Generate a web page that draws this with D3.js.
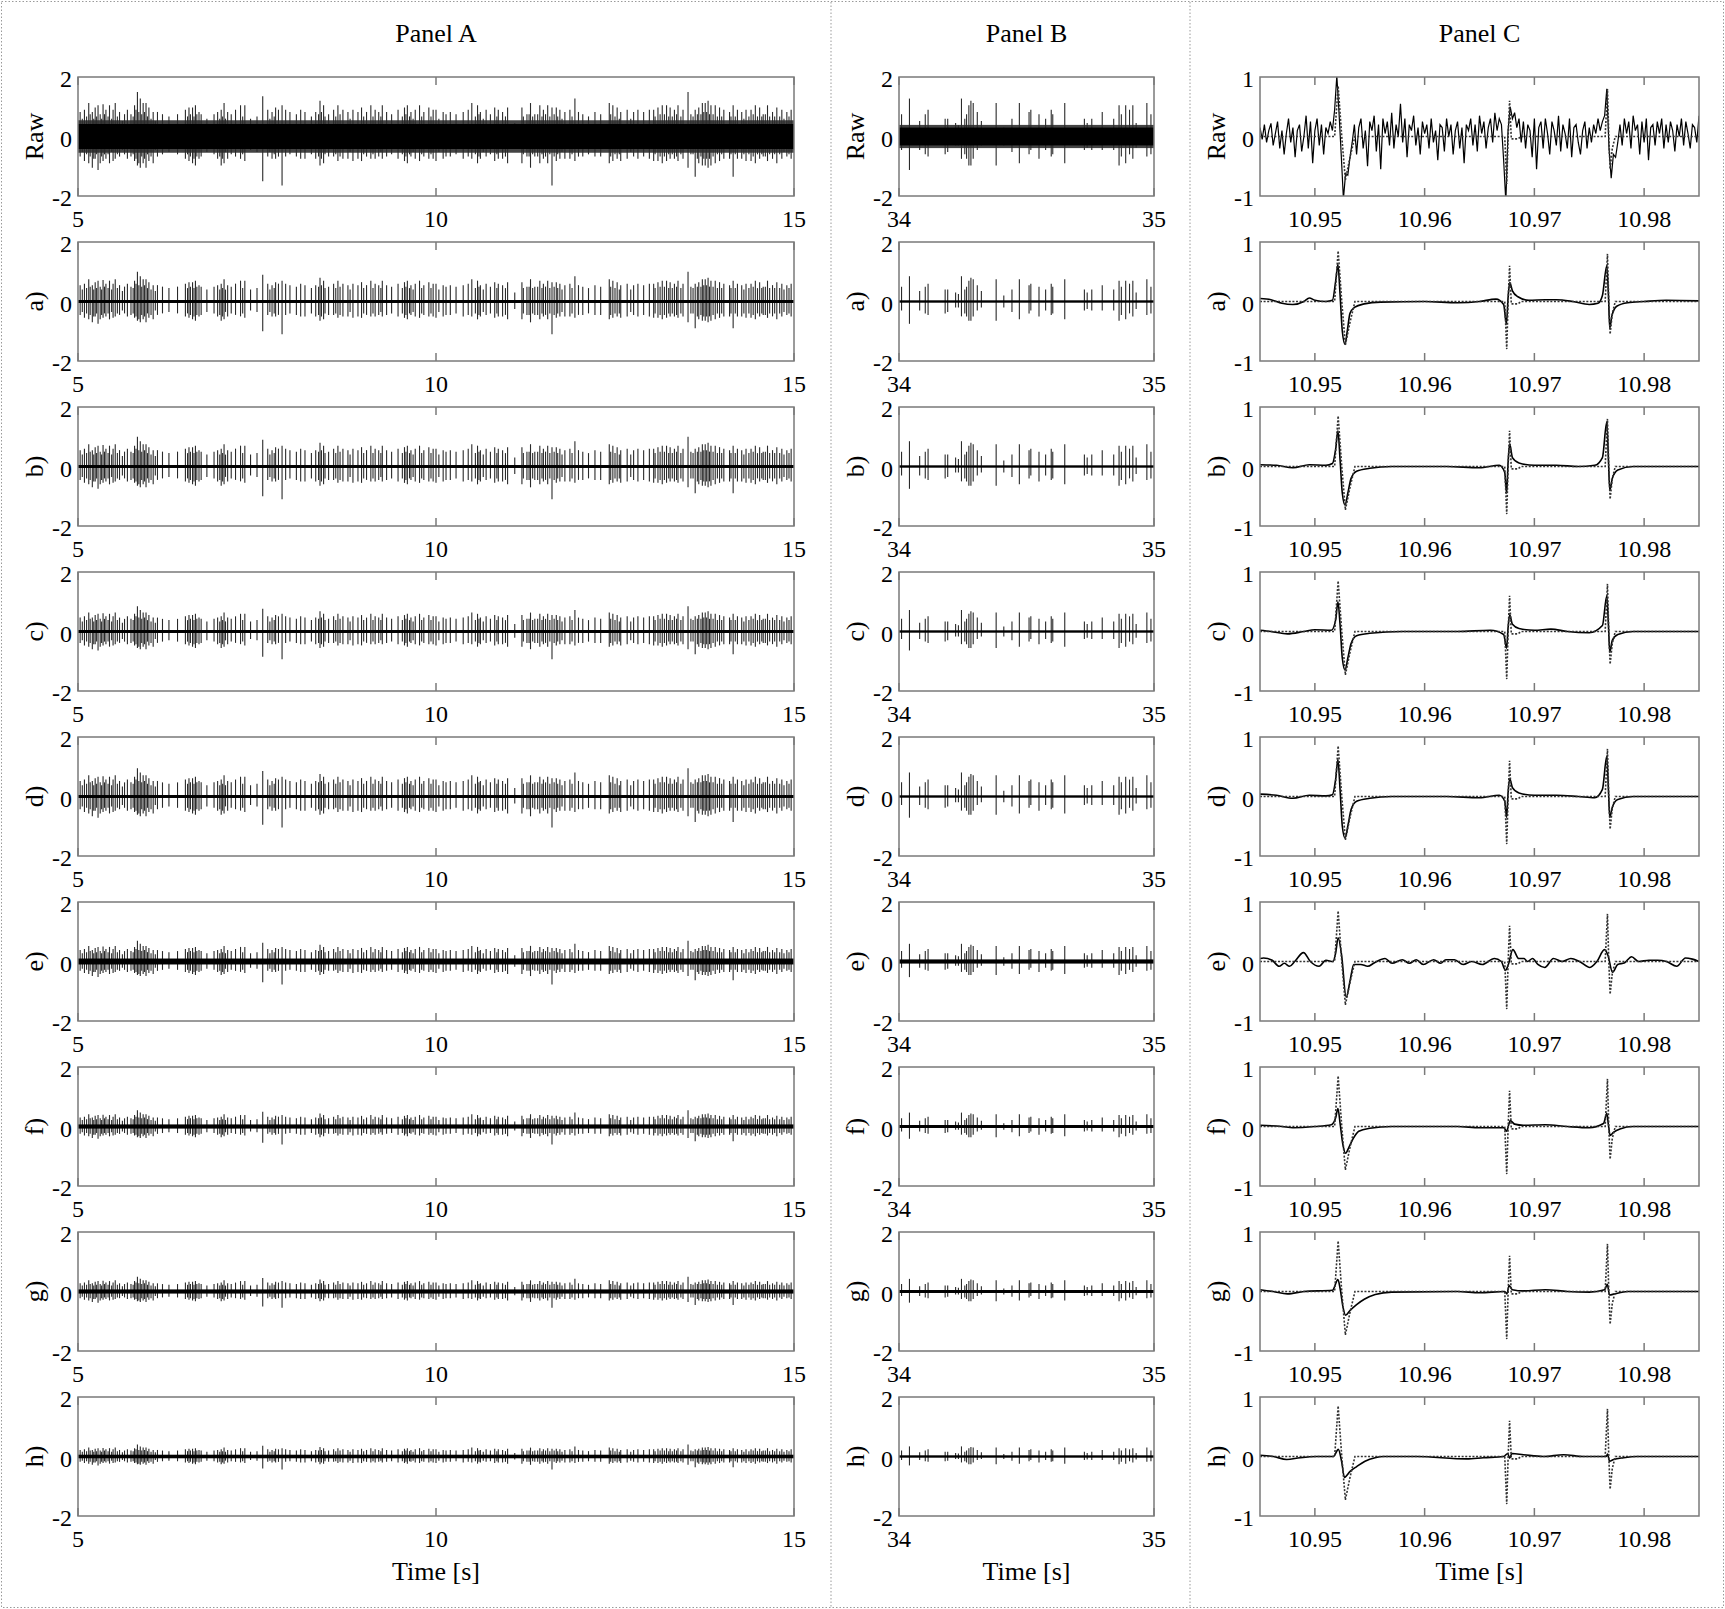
<!DOCTYPE html>
<html>
<head>
<meta charset="utf-8">
<script src="https://cdn.jsdelivr.net/npm/d3@7"></script>
<style>
  body { margin: 0; background: #fff; }
  svg { display: block; font-family: "Liberation Serif", "Times New Roman", serif; }
</style>
</head>
<body>
<svg></svg>
<script>
let rowNames = ['Raw', 'a)', 'b)', 'c)', 'd)', 'e)', 'f)', 'g)', 'h)'];

// Panel A / B spikes: [time s, upper peak, lower peak] in row a) units
let spikesA = [
  [5.03,.55,-.45],[5.09,.6,-.55],[5.15,.75,-.6],[5.2,.55,-.7],[5.24,.65,-.5],[5.28,.7,-.75],[5.31,.5,-.6],[5.35,.72,-.55],
  [5.39,.6,-.5],[5.44,.7,-.6],[5.49,.6,-.55],[5.52,.75,-.5],[5.58,.55,-.45],[5.65,.5,-.4],[5.69,.6,-.5],[5.74,.5,-.45],
  [5.79,.7,-.55],[5.83,1.0,-.65],[5.87,.85,-.7],[5.91,.75,-.6],[5.95,.75,-.7],[5.99,.65,-.55],[6.05,.55,-.6],[6.11,.55,-.45],
  [6.18,.5,-.4],[6.27,.45,-.35],[6.39,.5,-.4],[6.5,.6,-.5],[6.55,.65,-.55],[6.6,.65,-.6],[6.64,.7,-.65],[6.69,.55,-.5],
  [6.72,.5,-.45],[6.8,.4,-.35],[6.9,.5,-.4],[6.95,.55,-.5],[7.0,.6,-.65],[7.04,.75,-.6],[7.09,.55,-.5],[7.14,.5,-.4],
  [7.2,.6,-.45],[7.27,.7,-.5],[7.33,.7,-.55],[7.41,.4,-.3],[7.5,.45,-.35],[7.58,.9,-1.0],[7.65,.6,-.45],[7.71,.55,-.5],
  [7.76,.65,-.5],[7.8,.6,-.45],[7.85,.7,-1.1],[7.9,.6,-.45],[7.96,.55,-.4],[8.05,.5,-.45],[8.11,.6,-.5],[8.17,.55,-.5],
  [8.26,.45,-.4],[8.32,.55,-.5],[8.38,.8,-.65],[8.43,.7,-.6],[8.5,.5,-.45],[8.57,.6,-.45],[8.63,.7,-.55],[8.7,.6,-.5],
  [8.77,.55,-.5],[8.84,.6,-.55],[8.91,.55,-.5],[8.96,.65,-.55],[9.03,.55,-.45],[9.09,.7,-.5],[9.15,.6,-.5],[9.2,.55,-.45],
  [9.25,.7,-.5],[9.31,.55,-.45],[9.38,.5,-.4],[9.47,.6,-.5],[9.56,.65,-.55],[9.6,.7,-.6],[9.65,.55,-.45],[9.71,.6,-.5],
  [9.77,.7,-.55],[9.83,.55,-.45],[9.9,.65,-.5],[9.96,.6,-.5],
  [10.0,.6,-.55],[10.1,.55,-.5],[10.14,.5,-.45],[10.2,.55,-.45],[10.28,.5,-.4],[10.38,.55,-.5],[10.45,.6,-.45],[10.5,.75,-.5],
  [10.58,.7,-.6],[10.62,.55,-.5],[10.7,.6,-.45],[10.76,.5,-.4],[10.82,.65,-.55],[10.87,.6,-.5],[10.93,.55,-.5],[11.0,.65,-.6],
  [11.1,.3,-.25],[11.2,.65,-.6],[11.27,.5,-.45],[11.32,.75,-.7],[11.38,.5,-.45],[11.45,.7,-.6],[11.5,.6,-.5],[11.56,.7,-.6],
  [11.62,.65,-1.1],[11.68,.65,-.55],[11.73,.6,-.5],[11.8,.55,-.5],[11.87,.6,-.5],[11.94,.85,-.55],[11.99,.55,-.45],[12.05,.5,-.45],
  [12.13,.45,-.4],[12.22,.55,-.45],[12.3,.5,-.45],[12.42,.75,-.6],[12.47,.7,-.55],[12.53,.65,-.5],[12.58,.55,-.55],[12.67,.6,-.5],
  [12.76,.55,-.45],[12.82,.6,-.5],[12.9,.55,-.45],[12.98,.6,-.5],[13.04,.6,-.55],[13.1,.65,-.55],[13.16,.7,-.6],[13.22,.7,-.55],
  [13.27,.65,-.5],[13.33,.6,-.5],[13.38,.7,-.55],[13.45,.6,-.5],[13.52,1.0,-.7],[13.56,.5,-.4],[13.62,.6,-.9],[13.67,.65,-.6],
  [13.72,.75,-.65],[13.76,.75,-.65],[13.8,.8,-.7],[13.84,.7,-.65],[13.9,.7,-.6],[13.96,.65,-.55],[14.02,.6,-.5],[14.1,.55,-.5],
  [14.15,.7,-.9],[14.21,.6,-.5],[14.27,.55,-.5],[14.33,.6,-.55],[14.4,.6,-.55],[14.46,.7,-.6],[14.52,.65,-.5],[14.57,.5,-.45],
  [14.63,.7,-.55],[14.7,.55,-.5],[14.76,.65,-.6],[14.83,.6,-.5],[14.9,.55,-.45],[14.96,.6,-.5],
  // smaller spikes inside the bursts
  [5.06,.4,-.35],[5.12,.45,-.4],[5.17,.5,-.45],[5.22,.4,-.5],[5.26,.45,-.4],[5.33,.4,-.45],[5.37,.5,-.4],[5.42,.45,-.4],
  [5.47,.4,-.35],[5.55,.45,-.4],[5.62,.35,-.3],[5.77,.45,-.4],[5.81,.6,-.5],[5.85,.55,-.6],[5.89,.5,-.45],[5.93,.55,-.5],
  [5.97,.45,-.4],[6.02,.4,-.45],[6.08,.35,-.3],[6.53,.45,-.4],[6.57,.5,-.45],[6.62,.45,-.5],[6.66,.5,-.45],[6.98,.4,-.45],
  [7.02,.45,-.5],[7.06,.4,-.35],[7.3,.45,-.4],[7.68,.4,-.35],[7.74,.45,-.4],[8.36,.5,-.45],[8.4,.55,-.5],[8.45,.45,-.4],
  [8.6,.45,-.4],[8.66,.5,-.45],[8.8,.4,-.35],[8.99,.45,-.4],[9.12,.45,-.4],[9.23,.45,-.35],[9.53,.45,-.4],[9.58,.5,-.45],
  [9.63,.45,-.4],[9.68,.4,-.35],[9.8,.45,-.4],[9.93,.45,-.4],[10.04,.4,-.35],[10.55,.45,-.4],[10.6,.5,-.45],[10.66,.4,-.35],
  [10.85,.45,-.4],[10.97,.45,-.45],[11.22,.45,-.4],[11.3,.5,-.45],[11.35,.45,-.4],[11.42,.5,-.45],[11.48,.45,-.4],[11.53,.5,-.45],
  [11.59,.45,-.4],[11.65,.5,-.45],[11.7,.45,-.4],[11.76,.4,-.35],[11.9,.45,-.4],[12.44,.5,-.45],[12.5,.45,-.4],[12.56,.4,-.4],
  [12.72,.4,-.35],[13.06,.45,-.4],[13.13,.5,-.45],[13.19,.5,-.45],[13.25,.45,-.4],[13.3,.45,-.4],[13.36,.5,-.45],[13.42,.45,-.4],
  [13.59,.45,-.4],[13.65,.5,-.5],[13.7,.5,-.45],[13.74,.55,-.5],[13.78,.55,-.5],[13.82,.5,-.5],[13.87,.5,-.45],[13.93,.45,-.4],
  [13.99,.45,-.4],[14.12,.45,-.4],[14.18,.45,-.4],[14.3,.4,-.4],[14.37,.45,-.4],[14.43,.5,-.45],[14.49,.45,-.4],[14.55,.45,-.4],
  [14.6,.5,-.45],[14.66,.45,-.4],[14.73,.45,-.4],[14.8,.45,-.4],[14.86,.4,-.35],[14.93,.45,-.4]
];

let spikesB = [
  [34.010,.5,-.3],[34.041,.85,-.75],[34.081,.35,-.3],[34.103,.5,-.4],[34.114,.6,-.45],[34.181,.4,-.4],[34.191,.4,-.35],
  [34.222,.3,-.2],[34.233,.25,-.2],[34.245,.85,-.5],[34.258,.4,-.4],[34.265,.5,-.5],[34.274,.7,-.65],[34.282,.8,-.65],
  [34.291,.75,-.5],[34.307,.55,-.3],[34.323,.35,-.2],[34.381,.75,-.65],[34.411,.2,-.2],[34.443,.4,-.35],[34.472,.75,-.6],
  [34.510,.55,-.4],[34.517,.6,-.3],[34.549,.5,-.5],[34.575,.4,-.3],[34.597,.6,-.45],[34.603,.5,-.4],[34.650,.75,-.6],
  [34.727,.4,-.3],[34.738,.3,-.25],[34.756,.4,-.3],[34.797,.55,-.3],[34.842,.4,-.3],[34.863,.7,-.65],[34.872,.5,-.45],
  [34.889,.7,-.6],[34.904,.6,-.4],[34.917,.7,-.5],[34.930,.3,-.25],[34.972,.75,-.45],[34.988,.5,-.4]
];

// relative spike size and baseline half-width per row (Raw, a..h)
let gainAB = [1.5, 1, 1, .85, .95, .7, .55, .5, .4];
let bandA = [.42, .05, .05, .05, .05, .1, .07, .07, .06];
let bandB = [.3, .04, .04, .04, .04, .07, .05, .05, .04];

// Panel C, time in ms
let rawCStart = 10945, rawCStep = 0.2;
let rawC = [
  .15,-.05,.2,-.1,.1,.22,-.15,.05,.25,-.2,
  .1,-.3,.05,.3,-.1,.15,-.35,.1,.2,-.25,
  0,.35,-.2,.25,-.45,.1,.3,-.15,.2,-.3,
  .15,.05,.25,.1,.45,1.02,.4,-.3,-1.05,-.62,
  -.65,-.35,-.1,.2,-.3,.15,.3,-.2,.1,-.5,
  .25,.1,.35,-.25,.2,-.55,.3,.05,.25,-.15,
  .4,-.2,.2,0,.55,-.1,.3,-.35,.2,.1,
  .35,-.15,.15,-.3,.25,.05,.2,-.2,.3,-.1,
  .1,-.4,.2,.15,-.25,.3,0,.2,-.3,.1,
  .25,-.2,.15,-.45,.2,.1,.3,-.15,.2,-.25,
  .35,.05,.25,-.2,.15,.3,-.1,.4,.1,.3,
  .2,-.4,-1.1,.1,.5,.3,.4,.15,.3,-.1,
  .25,-.2,.2,.1,-.35,.3,-.55,.15,.25,-.2,
  .3,.05,-.3,.25,.1,-.15,.35,-.25,.2,.05,
  -.2,.3,-.35,.15,.2,-.1,-.3,.1,.25,-.2,
  .15,-.1,.2,.05,.3,.1,.25,.35,.8,-.2,
  -.7,-.3,-.35,-.1,.2,-.15,.3,.05,.25,-.2,
  .35,.1,.2,-.3,.25,-.1,.3,-.4,.15,.2,
  -.15,.25,.05,.3,-.2,.2,-.1,.25,.1,-.25,
  .2,0,.3,-.15,.25,.05,-.2,.2,.15,-.1,
  .35
];

let templateC = [
  [10945,0],[10951.8,0],[10952.12,.85],[10952.45,0],[10952.78,-.73],[10953.2,-.35],[10953.65,0],
  [10967.3,0],[10967.48,-.8],[10967.61,0],[10967.74,.6],[10967.9,-.04],[10968.5,-.04],[10968.8,0],
  [10976.45,0],[10976.66,.8],[10976.78,0],[10976.9,-.55],[10977.1,-.2],[10977.37,0],[10985,0]
];

let cA = [
  [10945,.05],[10946,.03],[10947,-.03],[10948,-.05],[10949,0],[10949.5,.06],[10950,.02],[10951,0],[10951.6,.02],
  [10951.9,.35],[10952.1,.62],[10952.3,.1],[10952.5,-.5],[10952.75,-.72],[10952.95,-.5],[10953.2,-.2],[10953.6,-.1],
  [10954.5,-.04],[10956,-.01],[10960,0],[10963,-.02],[10965,0],[10966.5,.04],[10967.2,-.05],[10967.45,-.38],[10967.6,.05],
  [10967.75,.32],[10968,.18],[10968.5,.08],[10969.5,.02],[10971,.03],[10972,.03],[10973.5,0],[10975,-.05],[10975.8,-.03],
  [10976.2,.1],[10976.6,.6],[10976.75,.1],[10976.87,-.45],[10977.05,-.25],[10977.5,-.08],[10978.5,-.02],[10980,0],
  [10982,.02],[10985,.01]
];
let cB = [
  [10945,.03],[10946.5,.02],[10948,-.02],[10949.5,.03],[10951,.02],[10951.6,.05],[10951.9,.3],[10952.1,.6],[10952.3,.1],
  [10952.5,-.45],[10952.75,-.65],[10953,-.45],[10953.3,-.2],[10953.8,-.08],[10955,-.03],[10957,0],[10962,0],[10965,-.02],
  [10966.8,.02],[10967.3,-.1],[10967.47,-.45],[10967.6,.05],[10967.75,.38],[10968,.15],[10968.6,.06],[10970,.02],
  [10972,.02],[10974,0],[10975.5,.02],[10976.2,.15],[10976.6,.75],[10976.75,.1],[10976.87,-.4],[10977.1,-.2],
  [10977.6,-.06],[10979,0],[10985,0]
];
let cC = [
  [10945,.02],[10946,0],[10947.5,-.04],[10949,0],[10950,.03],[10951.5,.02],[10951.9,.2],[10952.1,.5],[10952.3,.1],
  [10952.5,-.45],[10952.75,-.65],[10953,-.45],[10953.3,-.2],[10953.8,-.07],[10955,-.03],[10958,0],[10963,0],[10966,.02],
  [10967.2,-.05],[10967.47,-.28],[10967.6,.05],[10967.75,.28],[10968,.12],[10968.6,.05],[10970,.02],[10971.5,.04],
  [10973,0],[10975,-.02],[10976.2,.1],[10976.6,.6],[10976.75,.1],[10976.87,-.35],[10977.1,-.15],[10977.6,-.05],
  [10979,0],[10985,0]
];
let cD = [
  [10945,.04],[10946.5,.02],[10948,-.03],[10949.5,.02],[10951,.01],[10951.6,.03],[10951.9,.3],[10952.1,.62],[10952.3,.1],
  [10952.5,-.5],[10952.75,-.7],[10953,-.5],[10953.3,-.22],[10953.8,-.08],[10955,-.03],[10957,0],[10962,0],[10965,-.02],
  [10966.8,.02],[10967.3,-.08],[10967.47,-.35],[10967.6,.05],[10967.75,.3],[10968,.15],[10968.6,.06],[10970,.02],
  [10972,.02],[10974,0],[10975.5,-.02],[10976.2,.12],[10976.6,.68],[10976.75,.1],[10976.87,-.35],[10977.1,-.18],
  [10977.6,-.05],[10979,0],[10985,0]
];
let cE = [
  [10945,.05],[10945.32,.06],[10946.11,.02],[10946.74,-.08],[10947.22,-.03],[10947.69,-.08],[10948.16,0],[10948.96,.15],
  [10949.59,0],[10950.38,-.08],[10951.01,.02],[10951.65,0],[10951.9,.15],[10952.12,.4],[10952.44,.1],[10952.85,-.6],
  [10953.23,-.3],[10953.54,-.05],[10954.18,-.05],[10954.81,-.08],[10955.44,-.02],[10956.39,.05],[10957.03,-.03],
  [10957.97,.03],[10958.61,-.03],[10959.24,.03],[10959.87,-.05],[10960.82,.03],[10961.46,-.03],[10961.93,.03],
  [10962.72,.03],[10963.51,-.05],[10964.3,0],[10965.25,-.05],[10966.36,.05],[10966.99,0],[10967.37,-.15],[10967.63,-.05],
  [10968.04,.2],[10968.58,.05],[10969.05,.05],[10969.37,0],[10969.84,.05],[10970.32,-.05],[10970.95,-.1],[10971.74,.05],
  [10972.53,0],[10973.32,.05],[10974.11,0],[10975.06,-.1],[10975.7,0],[10976.39,.2],[10976.71,.1],[10977.12,-.18],
  [10977.59,-.05],[10978.23,-.02],[10978.86,.08],[10979.49,0],[10980.44,.02],[10981.23,.02],[10982.03,0],[10982.97,-.08],
  [10983.77,.06],[10984.4,.04],[10985,0]
];
let cF = [
  [10945,.02],[10947,0],[10948,-.02],[10950,0],[10951.5,.03],[10951.9,.15],[10952.1,.3],[10952.3,.05],[10952.55,-.3],
  [10952.8,-.45],[10953.1,-.35],[10953.5,-.2],[10954,-.08],[10955,-.03],[10957,0],[10963,0],[10965,-.02],[10967.2,-.02],
  [10967.47,-.08],[10967.65,.02],[10967.8,.1],[10968.2,.04],[10969,.02],[10971,.03],[10973,0],[10975,-.02],[10976.3,.05],
  [10976.6,.22],[10976.75,.02],[10976.9,-.15],[10977.2,-.1],[10977.8,-.04],[10979,0],[10985,0]
];
let cG = [
  [10945,.03],[10946.2,0],[10947.5,-.04],[10949,0],[10951.6,.02],[10952.1,.2],[10952.3,.05],[10952.55,-.25],[10952.8,-.4],
  [10953.2,-.32],[10953.8,-.22],[10954.5,-.13],[10955.5,-.05],[10957,-.01],[10963,0],[10965,-.02],[10967.3,0],
  [10967.5,-.04],[10967.7,.1],[10968,.03],[10969,.01],[10971,.03],[10973,0],[10975,-.01],[10976.4,.03],[10976.65,.12],
  [10976.85,-.06],[10977.3,-.04],[10978.5,0],[10985,0]
];
let cH = [
  [10945,.02],[10946.22,0],[10947.43,-.05],[10948.65,-.02],[10950.17,0],[10951.69,0],[10952.14,.12],[10952.45,-.1],
  [10952.69,-.35],[10953.21,-.25],[10953.81,-.17],[10954.57,-.08],[10955.49,-.02],[10956.25,0],[10959.29,0],
  [10963.84,-.04],[10965.36,-.02],[10967.19,0],[10967.58,.05],[10967.74,-.03],[10967.95,.05],[10969.01,.03],
  [10970.84,0],[10972.66,.03],[10974.48,0],[10976.55,0],[10976.67,.04],[10976.85,-.08],[10977.22,-.05],
  [10978.13,-.02],[10979.35,0],[10985,0]
];
let tracesC = [null, cA, cB, cC, cD, cE, cF, cG, cH];

let width = 1725, height = 1609;
let rowTop = i => 77 + 165 * i, rowH = 119;

let panels = [
  {title: 'Panel A', left: 78, right: 794, xDomain: [5, 15], xTicks: [5, 10, 15], yDomain: [-2, 2], yTicks: [-2, 0, 2],
   fmt: d => d, spikes: spikesA, band: bandA},
  {title: 'Panel B', left: 899, right: 1154, xDomain: [34, 35], xTicks: [34, 35], yDomain: [-2, 2], yTicks: [-2, 0, 2],
   fmt: d => d, spikes: spikesB, band: bandB},
  {title: 'Panel C', left: 1260, right: 1699, xDomain: [10945, 10985], xTicks: [10950, 10960, 10970, 10980],
   yDomain: [-1, 1], yTicks: [-1, 0, 1], fmt: d => (d / 1000).toFixed(2)}
];

let svg = d3.select('svg')
            .attr('width', width)
            .attr('height', height);

// dotted outer frame and panel dividers
svg.append('rect')
   .attr('x', 1.5).attr('y', 1.5)
   .attr('width', width - 3).attr('height', height - 3)
   .attr('fill', 'none')
   .attr('stroke', '#9a9a9a')
   .attr('stroke-dasharray', '1.5 2');
[831, 1190].forEach(x => {
  svg.append('line')
     .attr('x1', x).attr('x2', x)
     .attr('y1', 2).attr('y2', height - 2)
     .attr('stroke', '#9a9a9a')
     .attr('stroke-dasharray', '1.5 2');
});

let frameColor = '#7a7a7a';

panels.forEach((p, pi) => {
  let x = d3.scaleLinear().domain(p.xDomain).range([p.left, p.right]);
  let cx = (p.left + p.right) / 2;

  svg.append('text')
     .attr('x', cx).attr('y', 42)
     .attr('text-anchor', 'middle')
     .attr('font-size', 26)
     .text(p.title);

  svg.append('text')
     .attr('x', cx).attr('y', 1580)
     .attr('text-anchor', 'middle')
     .attr('font-size', 26)
     .text('Time [s]');

  rowNames.forEach((name, ri) => {
    let top = rowTop(ri), bottom = top + rowH;
    let y = d3.scaleLinear().domain(p.yDomain).range([bottom, top]);
    let g = svg.append('g');
    let clipId = `clip-${pi}-${ri}`;

    g.append('clipPath').attr('id', clipId)
      .append('rect')
      .attr('x', p.left).attr('y', top)
      .attr('width', p.right - p.left).attr('height', rowH);

    let plot = g.append('g').attr('clip-path', `url(#${clipId})`);

    if (p.spikes) {
      let gain = gainAB[ri], band = p.band[ri];
      if (ri === 0) {
        plot.append('rect')
            .attr('x', p.left).attr('width', p.right - p.left)
            .attr('y', y(band * 1.3)).attr('height', y(-band * 1.3) - y(band * 1.3))
            .attr('fill', '#444');
      }
      plot.selectAll('line.spike')
          .data(p.spikes)
          .enter()
          .append('line')
          .classed('spike', true)
          .attr('x1', d => x(d[0])).attr('x2', d => x(d[0]))
          .attr('y1', d => y(d[1] * gain)).attr('y2', d => y(d[2] * gain))
          .attr('stroke', '#2a2a2a')
          .attr('stroke-width', 1.1);
      plot.append('rect')
          .attr('x', p.left).attr('width', p.right - p.left)
          .attr('y', y(band)).attr('height', Math.max(1.5, y(-band) - y(band)))
          .attr('fill', '#000');
    } else {
      let line = d3.line().x(d => x(d[0])).y(d => y(d[1]));
      if (ri === 0) {
        let rawPts = rawC.map((v, i) => [rawCStart + i * rawCStep, v]);
        plot.append('path')
            .attr('d', line(rawPts))
            .attr('fill', 'none')
            .attr('stroke', '#000')
            .attr('stroke-width', 1.2);
      } else {
        plot.append('path')
            .attr('d', line.curve(d3.curveMonotoneX)(tracesC[ri]))
            .attr('fill', 'none')
            .attr('stroke', '#000')
            .attr('stroke-width', 1.6);
        line.curve(d3.curveLinear);
      }
      plot.append('path')
          .attr('d', line(templateC))
          .attr('fill', 'none')
          .attr('stroke', '#333')
          .attr('stroke-width', 1.6)
          .attr('stroke-dasharray', '2 1.6');
    }

    // frame and inward ticks
    g.append('rect')
     .attr('x', p.left).attr('y', top)
     .attr('width', p.right - p.left).attr('height', rowH)
     .attr('fill', 'none')
     .attr('stroke', frameColor)
     .attr('stroke-width', 1.5);

    p.xTicks.forEach(t => {
      g.append('line').attr('x1', x(t)).attr('x2', x(t)).attr('y1', bottom).attr('y2', bottom - 8)
       .attr('stroke', frameColor).attr('stroke-width', 1.5);
      g.append('line').attr('x1', x(t)).attr('x2', x(t)).attr('y1', top).attr('y2', top + 8)
       .attr('stroke', frameColor).attr('stroke-width', 1.5);
      g.append('text')
       .attr('x', x(t)).attr('y', bottom + 31)
       .attr('text-anchor', 'middle')
       .attr('font-size', 24)
       .text(p.fmt(t));
    });

    p.yTicks.forEach(t => {
      g.append('text')
       .attr('x', p.left - 6).attr('y', y(t) + 2)
       .attr('text-anchor', 'end')
       .attr('dominant-baseline', 'central')
       .attr('font-size', 24)
       .text(t);
    });

    g.append('text')
     .attr('transform', `translate(${p.left - 44},${y(0)}) rotate(-90)`)
     .attr('text-anchor', 'middle')
     .attr('dominant-baseline', 'central')
     .attr('font-size', 26)
     .text(name);
  });
});
</script>
</body>
</html>
